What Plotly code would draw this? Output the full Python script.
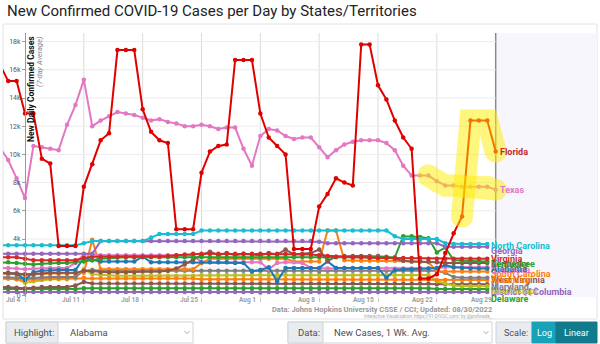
import pandas as pd
import plotly.graph_objects as go

# ---------------- data (thousands of cases, 7-day avg) ----------------
dates = pd.date_range("2022-07-01", "2022-08-29").strftime("%Y-%m-%d").tolist()
week_ticks = ["2022-07-04", "2022-07-11", "2022-07-18", "2022-07-25", "2022-08-01",
              "2022-08-08", "2022-08-15", "2022-08-22", "2022-08-29"]
week_labels = ["Jul 4", "Jul 11", "Jul 18", "Jul 25", "Aug 1", "Aug 8", "Aug 15", "Aug 22", "Aug 29"]
y_tick_vals = [0, 4, 6, 8, 10, 12, 14, 16, 18]
y_tick_text = ["0", "4k", "6k", "8k", "10k", "12k", "14k", "16k", "18k"]
event_dates = ["2022-07-05", "2022-08-02", "2022-08-03"]

florida = [16.4, 15.2, 15.2, 12.9, 12.9, 9.7, 9.35, 3.5, 3.5, 3.5,
           7.7, 9.3, 11.0, 11.5, 17.4, 17.4, 17.4, 13.2, 11.6, 11.0,
           10.8, 4.7, 4.7, 4.7, 8.7, 10.2, 10.6, 10.7, 16.7, 16.7,
           16.7, 12.9, 11.2, 10.6, 10.0, 3.3, 3.3, 3.3, 6.3, 7.2,
           8.3, 8.0, 7.8, 17.8, 17.8, 14.9, 13.9, 12.4, 11.2, 10.4,
           1.2, 1.2, 1.5, 3.0, 4.4, 5.6, 12.4, 12.4, 12.4, 10.2]
texas = [10.5, 9.6, 8.3, 6.9, 10.6, 10.5, 10.4, 10.3, 12.1, 13.5,
         15.3, 12.0, 12.4, 12.7, 13.0, 12.9, 12.8, 12.6, 12.4, 12.5,
         12.3, 12.2, 12.0, 12.0, 12.1, 12.0, 11.8, 11.9, 11.9, 10.4,
         9.2, 11.3, 11.8, 11.7, 11.3, 11.1, 11.2, 11.2, 10.5, 9.8,
         10.3, 10.7, 10.9, 11.0, 11.0, 11.0, 10.8, 10.3, 9.2, 8.5,
         8.5, 8.5, 8.1, 7.8, 7.8, 7.7, 7.7, 7.7, 7.7, 7.5]
north_carolina = [3.55, 3.55, 3.55, 3.55, 3.55, 3.55, 3.55, 3.55, 3.55, 3.55,
                  3.7, 3.85, 3.85, 3.85, 3.85, 3.85, 3.85, 3.85, 4.1, 4.35,
                  4.35, 4.35, 4.35, 4.35, 4.6, 4.6, 4.6, 4.6, 4.6, 4.6,
                  4.6, 4.6, 4.6, 4.6, 4.6, 4.6, 4.6, 4.6, 4.6, 4.6,
                  4.6, 4.6, 4.6, 4.6, 4.6, 4.6, 4.6, 4.2, 4.0, 4.0,
                  4.0, 4.0, 4.0, 3.7, 3.65, 3.65, 3.65, 3.65, 3.65]
georgia = [2.95, 2.95, 2.95, 2.95, 2.95, 2.95, 2.95, 2.95, 2.95, 2.95,
           2.95, 2.95, 3.85, 3.85, 3.85, 3.85, 3.85, 3.85, 3.85, 3.85,
           3.85, 3.85, 3.85, 3.85, 3.85, 3.85, 3.85, 3.85, 3.85, 3.85,
           3.85, 3.85, 3.85, 3.85, 3.85, 3.85, 3.85, 3.85, 3.8, 3.7,
           3.7, 3.7, 3.7, 3.7, 3.7, 3.7, 3.7, 3.7, 3.7, 3.7,
           3.7, 3.7, 3.7, 3.45, 3.45, 3.45, 3.45, 3.45, 3.45]
virginia = [2.7, 2.7, 2.7, 2.6, 2.5, 2.5, 2.5, 2.5, 2.5, 2.5,
            2.65, 2.75, 2.75, 2.75, 2.75, 2.75, 2.75, 2.75, 2.75, 2.75,
            2.8, 2.85, 2.9, 2.95, 2.95, 2.95, 2.95, 2.95, 2.95, 2.95,
            2.95, 2.95, 2.95, 2.95, 2.95, 2.95, 2.9, 2.9, 2.85, 2.8,
            2.75, 2.7, 2.7, 2.7, 2.65, 2.65, 2.65, 2.65, 2.65, 2.65,
            2.65, 2.6, 2.6, 2.6, 2.6, 2.6, 2.6, 2.6, 2.6]
tennessee = [2.35, 2.35, 2.3, 2.25, 2.2, 2.25, 2.3, 2.3, 2.3, 2.35,
             2.4, 2.5, 2.6, 2.65, 2.7, 2.7, 2.7, 2.7, 2.7, 2.7,
             2.7, 2.7, 2.7, 2.7, 2.7, 2.7, 2.7, 2.7, 2.7, 2.7,
             2.7, 2.7, 2.7, 2.7, 2.7, 2.7, 2.7, 2.7, 2.7, 2.7,
             2.7, 2.7, 2.7, 2.7, 2.7, 2.7, 2.7, 2.7, 4.2, 4.2,
             4.15, 4.05, 3.05, 3.4, 2.5, 2.45, 2.45, 2.4, 2.4]
kentucky = [1.6, 1.6, 1.55, 1.5, 1.5, 1.55, 1.6, 1.6, 1.6, 1.6,
            1.75, 1.7, 1.65, 1.65, 1.65, 1.65, 1.65, 1.7, 1.7, 1.7,
            1.75, 1.9, 2.2, 2.55, 2.85, 3.1, 2.85, 3.0, 2.85, 2.95,
            2.9, 2.85, 3.0, 2.9, 3.25, 2.9, 2.95, 3.0, 3.25, 2.45,
            2.75, 2.8, 2.8, 2.8, 2.8, 2.8, 2.75, 2.6, 2.45, 2.4,
            2.4, 2.4, 2.35, 2.3, 2.3, 2.3, 2.3, 2.3, 2.3]
alabama = [1.6, 1.6, 1.55, 1.1, 1.65, 1.75, 1.8, 1.8, 1.8, 1.8,
           2.65, 2.5, 2.4, 2.4, 2.4, 2.4, 2.4, 2.75, 2.35, 2.35,
           2.35, 2.35, 2.35, 2.35, 2.35, 2.35, 2.35, 2.35, 2.3, 2.3,
           1.7, 1.8, 2.0, 1.0, 1.95, 1.95, 1.95, 1.95, 1.95, 2.4,
           1.95, 1.95, 1.95, 1.95, 1.95, 1.95, 1.25, 1.8, 1.85, 1.85,
           1.9, 1.9, 1.95, 2.15, 2.0, 1.95, 1.9, 1.9, 1.9]
louisiana = [1.95, 1.95, 1.9, 1.85, 1.9, 1.95, 1.95, 1.95, 1.95, 2.3,
             2.9, 2.9, 2.85, 2.85, 2.85, 2.85, 2.85, 2.85, 2.85, 2.85,
             2.85, 2.85, 2.85, 2.85, 2.35, 2.35, 2.35, 2.35, 2.35, 2.35,
             2.35, 2.35, 1.85, 2.3, 2.35, 2.35, 2.3, 1.95, 1.9, 1.9,
             1.9, 1.9, 1.9, 1.9, 1.9, 1.9, 1.9, 1.9, 1.9, 1.9,
             1.9, 1.9, 1.95, 2.0, 2.0, 2.0, 2.0, 2.0, 2.0]
south_carolina = [1.55, 1.55, 1.5, 1.45, 1.5, 1.55, 1.55, 1.55, 1.55, 1.55,
                  1.6, 3.95, 1.85, 1.85, 1.85, 1.85, 1.85, 1.85, 1.85, 1.85,
                  1.85, 1.85, 1.85, 1.85, 2.3, 2.6, 2.6, 2.6, 2.6, 2.6,
                  2.6, 2.6, 2.6, 2.6, 2.6, 2.4, 2.4, 2.4, 2.4, 4.6,
                  4.6, 2.5, 2.45, 2.45, 2.45, 2.45, 2.45, 2.45, 2.45, 2.4,
                  2.4, 2.35, 1.7, 1.7, 1.7, 1.7, 1.7, 1.7, 1.7]
arkansas = [1.2, 1.2, 1.15, 1.1, 1.15, 1.2, 1.2, 1.2, 1.2, 1.2,
            1.25, 1.2, 1.2, 1.2, 1.2, 1.2, 1.2, 1.2, 1.2, 1.2,
            1.2, 1.2, 1.2, 1.2, 1.15, 1.15, 1.15, 1.15, 1.15, 1.15,
            1.15, 1.15, 1.15, 1.15, 1.15, 1.15, 1.15, 1.15, 1.15, 1.15,
            1.15, 1.15, 1.15, 1.15, 1.15, 1.15, 1.15, 1.15, 1.15, 1.15,
            1.15, 1.15, 1.1, 1.1, 1.1, 1.1, 1.1, 1.1, 1.1]
maryland = [1.3, 1.3, 1.25, 1.2, 1.25, 1.3, 1.3, 1.3, 1.3, 1.3,
            1.75, 1.8, 1.75, 1.75, 1.75, 1.75, 1.75, 1.75, 1.75, 1.75,
            1.75, 1.75, 1.75, 1.75, 1.75, 1.75, 1.75, 1.75, 1.75, 1.75,
            1.75, 1.75, 1.75, 1.75, 1.75, 1.75, 1.75, 1.75, 1.7, 1.75,
            1.75, 1.75, 1.75, 1.75, 1.75, 1.75, 1.75, 1.75, 1.75, 1.75,
            1.75, 1.75, 1.75, 1.6, 1.3, 1.25, 1.25, 1.25, 1.25]
mississippi = [1.2, 1.2, 1.15, 0.9, 1.0, 1.1, 1.15, 1.15, 1.15, 1.3,
               1.85, 1.5, 1.45, 1.4, 1.4, 1.4, 1.4, 1.4, 1.4, 1.4,
               1.4, 1.4, 1.4, 1.4, 1.45, 1.45, 1.45, 1.45, 1.45, 1.45,
               1.45, 1.45, 1.45, 1.45, 1.45, 1.45, 1.45, 1.45, 1.45, 1.45,
               1.45, 1.45, 1.45, 1.45, 1.45, 1.45, 1.45, 1.45, 1.45, 1.45,
               1.45, 1.45, 1.0, 0.85, 0.7, 0.65, 0.65, 0.65, 0.65]
west_virginia = [0.6, 0.6, 0.55, 0.5, 0.55, 0.6, 0.6, 0.6, 0.6, 0.7,
                 0.95, 0.85, 0.85, 0.85, 0.85, 0.85, 0.85, 0.85, 0.85, 0.85,
                 0.85, 0.85, 0.85, 0.85, 0.85, 0.85, 0.85, 0.85, 0.85, 0.85,
                 0.85, 0.85, 0.85, 0.85, 0.85, 0.85, 0.85, 0.85, 0.85, 0.85,
                 0.85, 0.85, 0.85, 0.85, 0.85, 0.85, 0.85, 0.85, 0.85, 0.85,
                 0.85, 0.85, 0.8, 0.8, 0.8, 0.8, 0.8, 0.8, 0.8]
delaware = [0.45, 0.45, 0.45, 0.4, 0.45, 0.45, 0.45, 0.45, 0.45, 0.45,
            0.5, 0.5, 0.5, 0.5, 0.5, 0.5, 0.5, 0.5, 0.5, 0.5,
            0.5, 0.5, 0.5, 0.5, 0.5, 0.55, 0.5, 0.5, 0.5, 0.5,
            0.5, 0.5, 0.5, 0.5, 0.5, 0.5, 0.5, 0.5, 0.5, 0.5,
            0.5, 0.5, 0.5, 0.5, 0.5, 0.5, 0.5, 0.5, 0.5, 0.5,
            0.5, 0.5, 0.45, 0.45, 0.45, 0.45, 0.45, 0.45, 0.45]
district_of_columbia = [0.25, 0.25, 0.25, 0.2, 0.25, 0.25, 0.25, 0.25, 0.25, 0.25,
                        0.25, 0.25, 0.25, 0.25, 0.25, 0.25, 0.25, 0.25, 0.25, 0.25,
                        0.25, 0.25, 0.25, 0.25, 0.25, 0.25, 0.25, 0.25, 0.25, 0.25,
                        0.25, 0.2, 0.25, 0.25, 0.25, 0.25, 0.25, 0.25, 0.25, 0.25,
                        0.25, 0.25, 0.25, 0.25, 0.25, 0.25, 0.25, 0.25, 0.25, 0.25,
                        0.25, 0.25, 0.25, 0.25, 0.25, 0.25, 0.25, 0.25, 0.25]

# (name, values, colour, label y-offset in px)
series = [
    ("District of Columbia", district_of_columbia, "#9467bd", 0),
    ("Delaware", delaware, "#2ca02c", -10),
    ("West Virginia", west_virginia, "#8c564b", 4),
    ("Mississippi", mississippi, "#bcbd22", -5),
    ("Arkansas", arkansas, "#ff7f0e", 0),
    ("Maryland", maryland, "#7f7f7f", -9),
    ("South Carolina", south_carolina, "#ff7f0e", -3),
    ("Louisiana", louisiana, "#e377c2", -3),
    ("Alabama", alabama, "#1f77b4", 0),
    ("Kentucky", kentucky, "#8c564b", -1),
    ("Tennessee", tennessee, "#2ca02c", -2),
    ("Virginia", virginia, "#d62728", 0),
    ("Georgia", georgia, "#9467bd", -4),
    ("North Carolina", north_carolina, "#17becf", -2),
    ("Texas", texas, "#e377c2", 0),
    ("Florida", florida, "#e00000", 0),
]
label_colors = {"Florida": "#c0282d", "Texas": "#e377c2"}

# ---------------- geometry helpers ----------------
W, H = 600, 344
ML, MR, MT, MB = 3, 3, 33, 47
PW, PH = W - ML - MR, H - MT - MB
PX_PER_DAY = 8.405
AXIS_PX = 25  # pixel x of Jul 4

def px(x):
    return (x - ML) / PW

def py(y):
    return (H - MB - y) / PH

t_axis = pd.Timestamp("2022-07-04")
x0 = t_axis - pd.Timedelta(days=(AXIS_PX - ML) / PX_PER_DAY)
x1 = x0 + pd.Timedelta(days=PW / PX_PER_DAY)
xr = [x0.strftime("%Y-%m-%d %H:%M:%S"), x1.strftime("%Y-%m-%d %H:%M:%S")]
yr = [-0.113, 18.61]

fig = go.Figure()

for name, vals, col, dy in series:
    fig.add_trace(go.Scatter(
        x=dates[:len(vals)], y=vals, mode="lines+markers", name=name,
        line=dict(color=col, width=2), marker=dict(color=col, size=4.5, line=dict(width=0)),
        hoverinfo="skip", showlegend=False))

# highlighter strokes
fig.add_trace(go.Scatter(x=dates[51:], y=texas[51:], mode="lines+markers",
                         line=dict(color="#ffee00", width=22), marker=dict(color="#ffee00", size=22),
                         opacity=0.5, hoverinfo="skip", showlegend=False))
fig.add_trace(go.Scatter(x=dates[55:], y=florida[55:], mode="lines+markers",
                         line=dict(color="#ffee00", width=22), marker=dict(color="#ffee00", size=22),
                         opacity=0.5, hoverinfo="skip", showlegend=False))

# event markers under the axis
fig.add_trace(go.Scatter(x=event_dates, y=[-0.2] * len(event_dates), mode="markers",
                         marker=dict(color="#ff7f0e", size=5), cliponaxis=False,
                         hoverinfo="skip", showlegend=False))

shapes = []
# outer card border
shapes.append(dict(type="rect", xref="paper", yref="paper", x0=px(3), x1=px(597), y0=py(24), y1=py(319),
                   line=dict(color="#dee2e6", width=1), fillcolor="rgba(0,0,0,0)", layer="below"))
# future/label region
shapes.append(dict(type="rect", xref="x", yref="paper", x0=dates[-1], x1=xr[1], y0=0, y1=1,
                   line=dict(width=0), fillcolor="#f6f6fc", layer="below"))
# horizontal grid
for v in range(2, 19, 2):
    shapes.append(dict(type="line", xref="x", yref="y", x0=week_ticks[0], x1=week_ticks[-1], y0=v, y1=v,
                       line=dict(color="#ececec", width=1), layer="below"))
# vertical grid
for d in week_ticks[1:-1]:
    shapes.append(dict(type="line", xref="x", yref="paper", x0=d, x1=d, y0=0, y1=1,
                       line=dict(color="#dcdcdc", width=1), layer="below"))
shapes.append(dict(type="line", xref="x", yref="paper", x0=week_ticks[-1], x1=week_ticks[-1], y0=0, y1=1,
                   line=dict(color="#8a8a8a", width=1.5), layer="below"))

annotations = []
# title
annotations.append(dict(text="New Confirmed COVID-19 Cases per Day by States/Territories",
                        xref="paper", yref="paper", x=px(5), y=py(11), xanchor="left", yanchor="middle",
                        showarrow=False, font=dict(family="Roboto", size=15, color="#222")))
# y axis titles
annotations.append(dict(text="<b>New Daily Confirmed Cases</b>", textangle=-90,
                        xref="paper", yref="paper", x=px(31), y=py(34), xanchor="center", yanchor="top",
                        showarrow=False, font=dict(family="Roboto", size=8.5, color="#111")))
annotations.append(dict(text="<i>(7-day Average)</i>", textangle=-90,
                        xref="paper", yref="paper", x=px(39.5), y=py(34), xanchor="center", yanchor="top",
                        showarrow=False, font=dict(family="Roboto", size=7.5, color="#888")))
# x tick labels (right aligned to tick)
for d, lab in zip(week_ticks, week_labels):
    annotations.append(dict(text="<b>" + lab + "</b>", xref="x", yref="paper", x=d, y=py(299.5),
                            xanchor="right", yanchor="middle", xshift=-2, showarrow=False,
                            font=dict(family="Roboto", size=6.5, color="#a0a0a0")))
# line end labels
for name, vals, col, dy in series:
    annotations.append(dict(text="<b>" + name + "</b>", xref="x", yref="y", x=dates[len(vals) - 1],
                            y=vals[-1], xanchor="left", yanchor="middle", xshift=2, yshift=dy,
                            showarrow=False,
                            font=dict(family="Roboto", size=9, color=label_colors.get(name, col))))
# footer
annotations.append(dict(text="<b>Data: Johns Hopkins University CSSE / CCI; Updated: 08/30/2022</b>",
                        xref="paper", yref="paper", x=px(495), y=py(309), xanchor="right", yanchor="middle",
                        showarrow=False, font=dict(family="Roboto", size=7.5, color="#999")))
annotations.append(dict(text="Interactive Visualization: https://91-DIVOC.com/ by @profwade_",
                        xref="paper", yref="paper", x=px(495), y=py(316), xanchor="right", yanchor="middle",
                        showarrow=False, font=dict(family="Roboto", size=4.5, color="#aaa")))

# ---- bottom controls ----
def box(xa, xb, ya, yb, fill, line="#ced4da"):
    shapes.append(dict(type="rect", xref="paper", yref="paper", x0=px(xa), x1=px(xb), y0=py(ya), y1=py(yb),
                       line=dict(color=line, width=1), fillcolor=fill, layer="above"))

def text(t, x, y, anchor="left", color="#495057", size=9.5):
    annotations.append(dict(text=t, xref="paper", yref="paper", x=px(x), y=py(y), xanchor=anchor,
                            yanchor="middle", showarrow=False, font=dict(family="Roboto", size=size, color=color)))

def chevron(cx, cy):
    path = "M {} {} L {} {} L {} {}".format(px(cx - 2.5), py(cy - 1.5), px(cx), py(cy + 1.2),
                                            px(cx + 2.5), py(cy - 1.5))
    shapes.append(dict(type="path", xref="paper", yref="paper", path=path,
                       line=dict(color="#999", width=0.8), layer="above"))

CY0, CY1 = 322, 343
CYM = (CY0 + CY1) / 2
box(6, 193, CY0, CY1, "#ffffff")
box(6, 58, CY0, CY1, "#e9ecef")
text("Highlight:", 12, CYM)
text("Alabama", 68, CYM)
chevron(187, CYM)

box(288, 492, CY0, CY1, "#ffffff")
box(288, 323, CY0, CY1, "#e9ecef")
text("Data:", 296, CYM)
text("New Cases, 1 Wk. Avg.", 332, CYM)
chevron(486, CYM)

box(496, 532, CY0, CY1, "#e9ecef")
box(532, 556, CY0, CY1, "#17a2b8", line="#17a2b8")
box(556, 597, CY0, CY1, "#117a8b", line="#117a8b")
text("Scale:", 502, CYM, size=9)
text("Log", 544, CYM, anchor="center", color="#ffffff", size=9)
text("Linear", 576.5, CYM, anchor="center", color="#ffffff", size=9)

fig.update_layout(
    width=W, height=H, margin=dict(l=ML, r=MR, t=MT, b=MB),
    paper_bgcolor="white", plot_bgcolor="white",
    shapes=shapes, annotations=annotations, showlegend=False,
    xaxis=dict(type="date", range=xr, tickvals=week_ticks, showticklabels=False,
               ticks="outside", ticklen=4, tickcolor="#c8c8c8", showgrid=False, zeroline=False,
               showline=False, fixedrange=True),
    yaxis=dict(range=yr, tickvals=y_tick_vals, ticktext=y_tick_text, anchor="free", position=px(AXIS_PX),
               side="left", ticks="outside", ticklen=3, tickcolor="#999", showline=True, linecolor="#999",
               linewidth=1, showgrid=False, zeroline=False, tickfont=dict(family="Roboto", size=7, color="#555"),
               fixedrange=True),
)

fig.write_html("out.html")
